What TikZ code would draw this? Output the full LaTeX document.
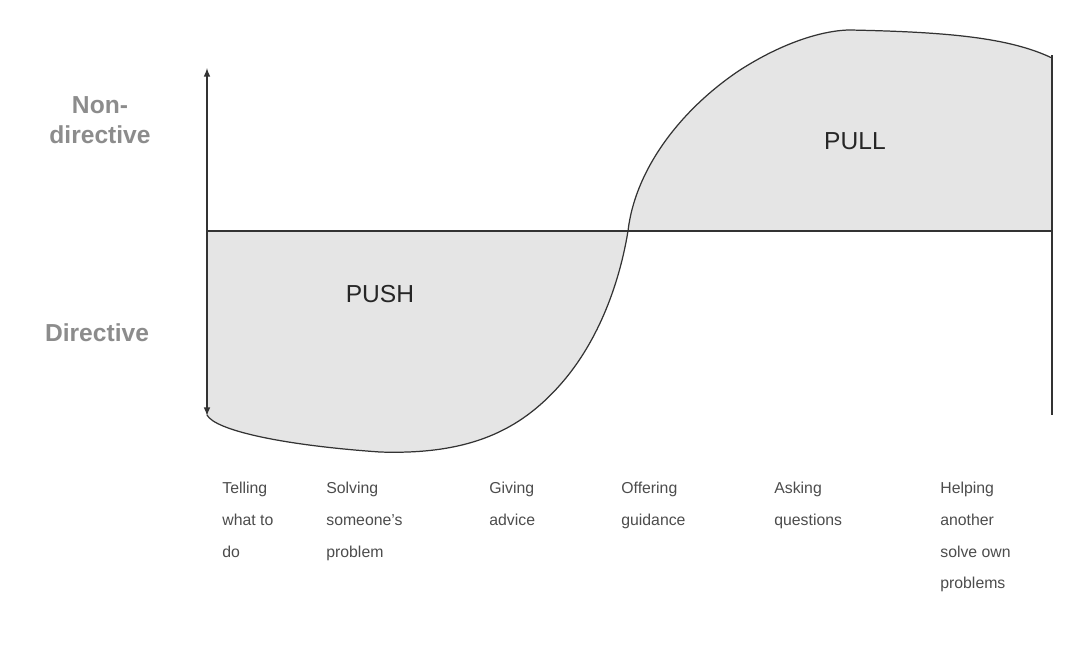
\documentclass[tikz,border=0pt]{standalone}
\usepackage{fontspec}
\setmainfont{Liberation Sans}
\begin{document}
\begin{tikzpicture}[x=0.02cm,y=-0.02cm,
  ax/.style={line width=0.7pt,draw=black!80},
  side/.style={font=\fontsize{14}{17}\selectfont\bfseries,text=black!45,align=center},
  act/.style={font=\fontsize{9}{18}\selectfont,text=black!70,align=left,anchor=north west,inner sep=0pt},
  big/.style={font=\fontsize{14}{17}\selectfont,text=black!85}]
\useasboundingbox (0,0) rectangle (1080,647);
\fill[black!10] (207,231) -- (207,415) .. controls (215,430) and (280,445) .. (380,452)
  .. controls (470,455) and (520,430) .. (560,385) .. controls (600,340) and (620,280) .. (628,231) -- cycle;
\fill[black!10] (628,231) .. controls (635,170) and (680,110) .. (740,70)
  .. controls (790,38) and (830,30) .. (850,30) .. controls (950,32) and (1010,38) .. (1052,58) -- (1052,231) -- cycle;
\draw[ax] (207,415) .. controls (215,430) and (280,445) .. (380,452)
  .. controls (470,455) and (520,430) .. (560,385) .. controls (600,340) and (620,280) .. (628,231)
  .. controls (635,170) and (680,110) .. (740,70)
  .. controls (790,38) and (830,30) .. (850,30) .. controls (950,32) and (1010,38) .. (1052,58);
\coordinate (top) at (207,68); \coordinate (bot) at (207,416);
\coordinate (hl) at (207,231); \coordinate (hr) at (1052,231);
\coordinate (rt) at (1052,55); \coordinate (rb) at (1052,415);
\draw[ax,<->,>=latex] (bot) -- (top);
\draw[ax] (hl) -- (hr);
\draw[ax] (rt) -- (rb);
\node[side] (nd) at (100,120) {Non-\\directive};
\node[side] (d) at (97,333) {Directive};
\node[big] (push) at (380,294) {PUSH};
\node[big] (pull) at (855,141) {PULL};
\node[act] (a1) at (222,482) {Telling\\what to\\do};
\node[act] (a2) at (326,482) {Solving\\someone's\\problem};
\node[act] (a3) at (489,482) {Giving\\advice};
\node[act] (a4) at (621,482) {Offering\\guidance};
\node[act] (a5) at (774,482) {Asking\\questions};
\node[act] (a6) at (940,482) {Helping\\another\\solve own\\problems};
\end{tikzpicture}
\end{document}
